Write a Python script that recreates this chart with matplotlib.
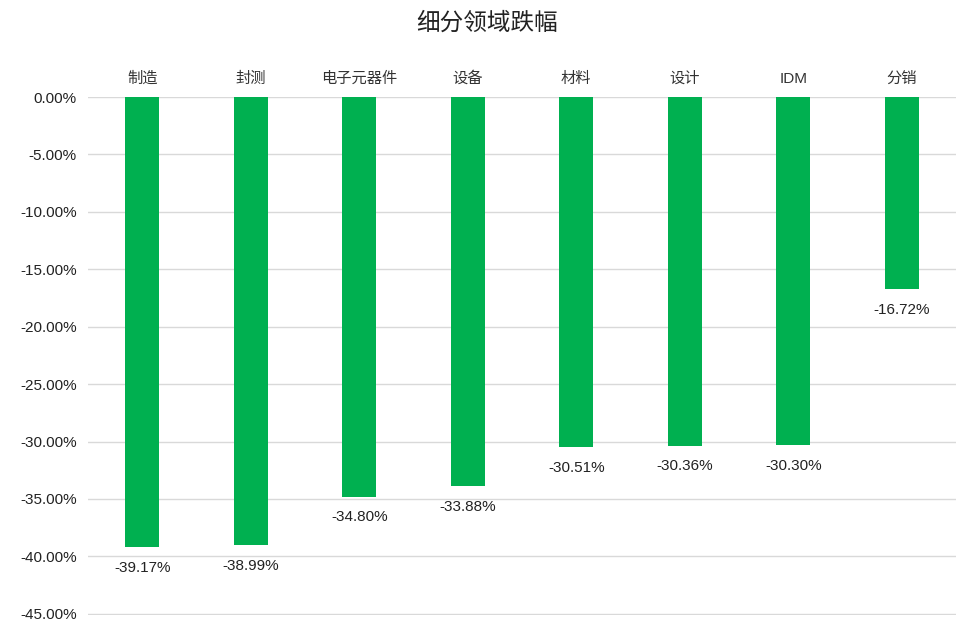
import matplotlib
matplotlib.use("Agg")
import matplotlib.pyplot as plt
from matplotlib.ticker import FuncFormatter, MultipleLocator

plt.rcParams['font.family'] = ['Liberation Sans', 'Noto Sans CJK SC', 'DejaVu Sans']

categories = ['制造', '封测', '电子元器件', '设备', '材料', '设计', 'IDM', '分销']
values = [-39.17, -38.99, -34.80, -33.88, -30.51, -30.36, -30.30, -16.72]
title = '细分领域跌幅'

fig = plt.figure(figsize=(9.75, 6.34), dpi=100)
ax = fig.add_axes([0.0903, 0.0300, 0.8902, 0.8170])

x = range(len(categories))
ax.bar(x, values, width=0.31, color='#00B050', zorder=3)

for xi, v in zip(x, values):
    ax.text(xi, v - 1.2, f'{v:.2f}%', ha='center', va='top', fontsize=11, color='#222222')

ax.set_xlim(-0.5, len(categories) - 0.5)
ax.set_ylim(-45.1, 0)
ax.yaxis.set_major_locator(MultipleLocator(5))
ax.yaxis.set_major_formatter(FuncFormatter(lambda v, p: f'{v:.2f}%' if abs(v) > 1e-9 else '0.00%'))
ax.grid(axis='y', color='#d9d9d9', linewidth=1, zorder=0)
ax.xaxis.tick_top()
ax.set_xticks(list(x))
ax.set_xticklabels(categories, fontsize=11, color='#333333')
ax.tick_params(axis='x', length=0, pad=8)
ax.tick_params(axis='y', length=0, labelsize=11, labelcolor='#222222', pad=8)
for s in ax.spines.values():
    s.set_visible(False)

fig.text(0.5, 0.963, title, ha='center', va='center', fontsize=17, color='#222222')

fig.savefig('out.png', dpi=100)
